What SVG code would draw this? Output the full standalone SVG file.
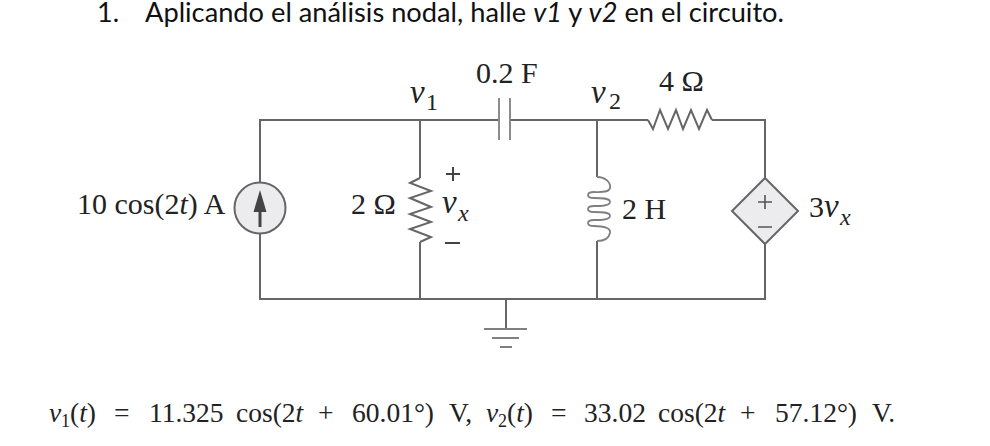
<svg xmlns="http://www.w3.org/2000/svg" width="990" height="446" viewBox="0 0 990 446">
<style>
.w{fill:none;stroke:#666;stroke-width:2}
.t{stroke:#808080;stroke-width:1.800;fill:none}
.s{font-family:"Liberation Serif",serif;font-size:30px;fill:#222}
.i{font-style:italic}
.v{font-family:"Liberation Serif",serif;font-style:italic;font-size:33px;fill:#222}
.sub{font-family:"Liberation Serif",serif;font-size:24px;fill:#222}
.h{font-family:Lato,"Open Sans",sans-serif;font-size:27px;fill:#111}
.e{font-family:"Liberation Serif",serif;font-size:27.500px;fill:#222}
.es{font-family:"Liberation Serif",serif;font-size:18px;fill:#222}
</style>
<rect width="990" height="446" fill="#fff"/>
<g id="title">
<text class="h" x="97" y="22">1.</text>
<text class="h" x="145" y="22" textLength="639" lengthAdjust="spacingAndGlyphs">Aplicando el análisis nodal, halle <tspan font-style="italic">v1</tspan> y <tspan font-style="italic">v2</tspan> en el circuito.</text>
</g>
<g id="connectors">
<path class="w" d="M260 183V120H499M510 120H648M712 120H765V178M765 244V299H260V233M420 120V178M420 242V299M597 120V177M597 241V299M506 299V329"/>
</g>
<g id="source">
<circle cx="260" cy="208" r="25.500" fill="#ececee" stroke="#666" stroke-width="2"/>
<path d="M260 190l-6.500 22h5v15h3v-15h5z" fill="#444"/>
<text class="s" x="77" y="214">10 cos(2<tspan class="i">t</tspan>) A</text>
</g>
<g id="r2">
<path class="w" d="M420 178L410 183L431 191L410 198L431 207L410 214L431 222L410 229L431 237L420 242"/>
<text class="s" x="351" y="214">2 Ω</text>
</g>
<g id="vx">
<path d="M446 174h14M453 167v14M445 243h15" stroke="#444" stroke-width="2" fill="none"/>
<text class="v" x="442" y="213">v</text>
<text class="sub i" x="458" y="221">x</text>
</g>
<g id="cap">
<path class="t" d="M499 98V140M510 98V140"/>
<text class="s" x="476" y="83">0.2 F</text>
</g>
<g id="node-v1"><text class="v" x="410" y="103">v</text><text class="sub" x="426" y="110">1</text></g>
<g id="node-v2"><text class="v" x="591" y="103">v</text><text class="sub" x="609" y="109">2</text></g>
<g id="r4">
<path class="w" d="M648 120L653 129L660 110L668 129L676 110L683 129L691 110L699 129L707 110L712 120"/>
<text class="s" x="659" y="91">4 Ω</text>
</g>
<g id="ind">
<path class="t" d="M597 177C606 177 611 183 610 188C609 193 600 192 594 192C586 192 586 198 594 198C602 198 610 198 610 202C610 206 600 206 594 206C586 206 586 212 594 212C602 212 610 212 610 216C610 220 600 220 594 220C586 220 586 226 594 226C604 226 611 228 610 233C609 238 604 241 597 241"/>
<text class="s" x="622" y="219">2 H</text>
</g>
<g id="dep">
<path d="M765 178L798 211L765 244L732 211Z" fill="#ececee" stroke="#666" stroke-width="2"/>
<path d="M758 202h14M765 195v14M758 227h14" stroke="#555" stroke-width="1.600" fill="none"/>
<text class="s" x="809" y="217">3</text>
<text class="v" x="824" y="217">v</text>
<text class="sub i" x="840" y="225">x</text>
</g>
<g id="ground">
<path class="t" d="M484 329H527M492 338H519M500 347H512"/>
</g>
<g id="result">
<text class="e i" x="49" y="422">v</text><text class="es" x="61" y="427">1</text><text class="e" x="70" y="422">(<tspan class="i">t</tspan>)</text>
<text class="e" x="114" y="422">=</text>
<text class="e" x="149" y="422">11.325</text>
<text class="e" x="236" y="422">cos(2<tspan class="i">t</tspan></text>
<text class="e" x="318" y="422">+</text>
<text class="e" x="352" y="422">60.01°)</text>
<text class="e" x="449" y="422">V,</text>
<text class="e i" x="486" y="422">v</text><text class="es" x="498" y="427">2</text><text class="e" x="507" y="422">(<tspan class="i">t</tspan>)</text>
<text class="e" x="551" y="422">=</text>
<text class="e" x="584" y="422">33.02</text>
<text class="e" x="658" y="422">cos(2<tspan class="i">t</tspan></text>
<text class="e" x="740" y="422">+</text>
<text class="e" x="775" y="422">57.12°)</text>
<text class="e" x="872" y="422">V.</text>
</g>
</svg>
